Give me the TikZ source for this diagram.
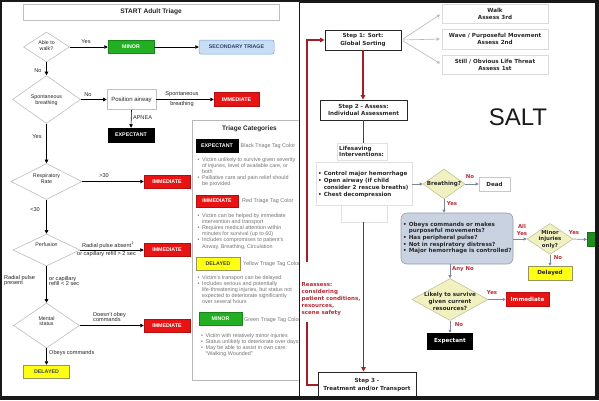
\documentclass[tikz,border=0pt]{standalone}
\usepackage{fontspec}
\setmainfont{Liberation Sans}
\newfontfamily\vfont{DejaVu Sans}
\usetikzlibrary{arrows.meta,shapes.geometric}
\definecolor{lgray}{RGB}{190,190,190}
\definecolor{mgreen}{RGB}{34,176,34}
\definecolor{ired}{RGB}{232,20,20}
\definecolor{yel}{RGB}{255,255,20}
\definecolor{yelb}{RGB}{150,150,90}
\definecolor{secf}{RGB}{200,222,246}
\definecolor{secd}{RGB}{120,160,215}
\definecolor{sect}{RGB}{45,65,105}
\definecolor{redline}{RGB}{160,30,40}
\definecolor{sdf}{RGB}{240,240,192}
\definecolor{sdb}{RGB}{195,195,155}
\definecolor{qf}{RGB}{200,210,224}
\definecolor{qd}{RGB}{150,156,168}
\definecolor{rlabc}{RGB}{185,45,55}
\definecolor{dtext}{RGB}{40,40,40}
\definecolor{rgreen}{RGB}{30,140,30}
\definecolor{garrc}{RGB}{125,135,150}
\tikzset{
  lt/.style={inner sep=0, font=\fontsize{5.6}{5.8}\selectfont, text=black!85, align=center},
  dt/.style={inner sep=0, font=\fontsize{5.3}{5.7}\selectfont, text=black!85, align=center},
  dia/.style={diamond, draw=lgray, line width=.6pt, fill=white, inner sep=0},
  tag/.style={rectangle, inner sep=0, font=\bfseries\fontsize{5.3}{6}\selectfont, line width=.5pt},
  minorbox/.style={tag, fill=mgreen, draw=mgreen!75!black, text=white, minimum width=46pt, minimum height=13pt},
  immbox/.style={tag, fill=ired, draw=ired!75!black, text=white, minimum width=46pt, minimum height=13pt},
  expbox/.style={tag, fill=black, draw=black, text=white, minimum width=46pt, minimum height=14pt},
  delbox/.style={tag, fill=yel, draw=yelb, text=black!75, minimum width=46pt, minimum height=13pt},
  secbox/.style={tag, fill=secf, draw=secd, text=sect, rounded corners=2pt},
  plainbox/.style={rectangle, draw=lgray, line width=.6pt, fill=white, inner sep=0, font=\fontsize{6}{7}\selectfont, text=black!85},
  arr/.style={-{Triangle[length=3.5pt,width=3.5pt]}, line width=.6pt, draw=black},
  gt/.style={inner sep=0, font=\fontsize{5.4}{6.2}\selectfont, text=black!55},
  rtx/.style={inner sep=0, font=\vfont\bfseries\fontsize{5.6}{7}\selectfont, text=dtext, align=center},
  stepbox/.style={rtx, draw=black!85, line width=.9pt, fill=white, font=\vfont\bfseries\fontsize{5.6}{7.4}\selectfont},
  wbox/.style={rtx, draw=black!14, line width=.6pt, fill=white},
  faint/.style={draw=black!12, line width=.6pt, fill=white, inner sep=0},
  sdia/.style={diamond, draw=sdb, fill=sdf, line width=.6pt, inner sep=0},
  rlab/.style={inner sep=0, font=\vfont\bfseries\fontsize{5.4}{6.2}\selectfont, text=rlabc, align=center},
  garr/.style={-{Triangle[length=3pt,width=3pt]}, draw=garrc, line width=.7pt},
  fanarr/.style={-{Triangle[length=3pt,width=3pt]}, draw=black!28, line width=.6pt},
  redl/.style={draw=redline, line width=1.1pt},
  redarr/.style={redl, -{Triangle[length=4.5pt,width=4.5pt]}},
  rtag/.style={rtx, minimum width=44pt, minimum height=14pt, line width=.5pt},
}
\begin{document}
\begin{tikzpicture}[x=1pt,y=-1pt]
\useasboundingbox (0,0) rectangle (599,400);
\fill[black!90] (0,0) rectangle (599,400);
\fill[white] (1.5,2) rectangle (298.5,395.5);
\fill[white] (300,2.5) rectangle (595,395.5);

% ---------------- LEFT PANEL ----------------
\begin{scope}
\clip (1.5,2) rectangle (298.5,395.5);
\node[plainbox, minimum width=256pt, minimum height=16pt, font=\bfseries\fontsize{6.6}{7}\selectfont] (title) at (151,12) {START Adult Triage};

\node[dia, minimum width=46pt, minimum height=30pt] (walk) at (46.5,47) {};
\node[dt] (walkt) at (46.5,45.5) {Able to\\walk?};
\node[minorbox] (minor1) at (131,47) {MINOR};
\node[secbox, minimum width=75pt, minimum height=14pt] (sec) at (236.5,47) {SECONDARY TRIAGE};
\draw[arr] (walk.east) -- (minor1.west);
\node[lt] (l1) at (86,42) {Yes};
\draw[arr] (minor1.east) -- (sec.west);

\node[dia, minimum width=68pt, minimum height=48pt] (spont) at (46.5,99.5) {};
\node[dt] (spontt) at (46.5,100.5) {Spontaneous\\breathing};
\draw[arr] (walk.south) -- (spont.north);
\node[lt] (l2) at (38,71) {No};
\node[plainbox, minimum width=49pt, minimum height=20pt] (posair) at (131.5,99.5) {Position airway};
\draw[arr] (spont.east) -- (posair.west);
\node[lt] (l3) at (88,94.5) {No};
\node[immbox, minimum width=45pt, minimum height=14pt] (imm1) at (236.5,99.5) {IMMEDIATE};
\draw[arr] (posair.east) -- (imm1.west);
\node[lt] (l4) at (182,94.5) {Spontaneous};
\node[lt] (l5) at (182,104.5) {breathing};
\node[expbox] (exp1) at (131,135) {EXPECTANT};
\draw[arr] (posair.south) -- (exp1.north);
\node[lt] (l6) at (142.5,117.5) {APNEA};

\node[dia, minimum width=71pt, minimum height=36pt] (resp) at (46.5,181.5) {};
\node[dt] (respt) at (46.5,178.5) {Respiratory\\Rate};
\draw[arr] (spont.south) -- (resp.north);
\node[lt] (l7) at (37,137) {Yes};
\node[immbox] (imm2) at (167,181.5) {IMMEDIATE};
\draw[arr] (resp.east) -- (imm2.west);
\node[lt] (l8) at (104,176) {>30};

\node[dia, minimum width=67pt, minimum height=32pt] (perf) at (46.5,250) {};
\node[dt] (perft) at (46.5,245) {Perfusion};
\draw[arr] (resp.south) -- (perf.north);
\node[lt] (l9) at (35,210) {<30};
\node[immbox] (imm3) at (167,250) {IMMEDIATE};
\draw[arr] (perf.east) -- (imm3.west);
\node[lt] (l10) at (108,245) {Radial pulse absent\textsuperscript{1}};
\node[lt] (l11) at (106.5,254.5) {or capillary refill > 2 sec};
\node[lt, align=left, anchor=west] (l12) at (4,280.5) {Radial pulse\\present};
\node[lt, align=left, anchor=west] (l13) at (49,281) {or capillary\\refill < 2 sec};

\node[dia, minimum width=66pt, minimum height=45pt] (mental) at (46.5,325.5) {};
\node[dt] (mentalt) at (46.5,321) {Mental\\status};
\draw[arr] (perf.south) -- (mental.north);
\node[immbox] (imm4) at (167,325.5) {IMMEDIATE};
\draw[arr] (mental.east) -- (imm4.west);
\node[lt, align=left, anchor=west] (l14) at (93,317) {Doesn't obey\\commands};
\node[delbox] (del1) at (46.5,371.5) {DELAYED};
\draw[arr] (mental.south) -- (del1.north);
\node[lt, anchor=west] (l15) at (49,353) {Obeys commands};

% Triage categories
\draw[draw=black!28, line width=.6pt] (192,120) rectangle (306,380);
\node[inner sep=0, font=\bfseries\fontsize{6.5}{7}\selectfont, text=black!85] (tc) at (249.5,129) {Triage Categories};
\node[expbox, minimum width=42pt, minimum height=13pt] (texp) at (217,145.5) {EXPECTANT};
\node[gt, anchor=west] (texpt) at (240.5,146) {Black Triage Tag Color};
\node[gt, anchor=base west] (texpb) at (197.5,161) {\begin{tabular}[t]{@{}l@{\hspace{2.5pt}}l@{}}\textbullet & Victim unlikely to survive given severity\\ & of injuries, level of available care, or\\ & both\\ \textbullet & Palliative care and pain relief should\\ & be provided\end{tabular}};

\node[immbox, minimum width=42pt, minimum height=12pt] (timm) at (217,201) {IMMEDIATE};
\node[gt, anchor=west] (timmt) at (242,201.5) {Red Triage Tag Color};
\node[gt, anchor=base west] (timmb) at (197.5,217) {\begin{tabular}[t]{@{}l@{\hspace{2.5pt}}l@{}}\textbullet & Victim can be helped by immediate\\ & intervention and transport\\ \textbullet & Requires medical attention within\\ & minutes for survival (up to 60)\\ \textbullet & Includes compromises to patient's\\ & Airway, Breathing, Circulation\end{tabular}};

\node[delbox, minimum width=44pt, minimum height=13pt] (tdel) at (218,263.5) {DELAYED};
\node[gt, anchor=west] (tdelt) at (243,264.5) {Yellow Triage Tag Color};
\node[gt, anchor=base west] (tdelb) at (197.5,279) {\begin{tabular}[t]{@{}l@{\hspace{2.5pt}}l@{}}\textbullet & Victim's transport can be delayed\\ \textbullet & Includes serious and potentially\\ & life-threatening injuries, but status not\\ & expected to deteriorate significantly\\ & over several hours\end{tabular}};

\node[minorbox, minimum width=43pt, minimum height=13pt] (tmin) at (220.5,318.5) {MINOR};
\node[gt, anchor=west] (tmint) at (244,320) {Green Triage Tag Color};
\node[gt, anchor=base west] (tminb) at (201,337) {\begin{tabular}[t]{@{}l@{\hspace{2.5pt}}l@{}}\textbullet & Victim with relatively minor injuries\\ \textbullet & Status unlikely to deteriorate over days\\ \textbullet & May be able to assist in own care:\\ & ``Walking Wounded''\end{tabular}};
\end{scope}

% ---------------- RIGHT PANEL ----------------
\begin{scope}
\clip (300,2.5) rectangle (595,395.5);
\node[stepbox, minimum width=76pt, minimum height=20pt] (step1) at (363,40) {Step 1: Sort:\\Global Sorting};
\node[wbox, minimum width=106pt, minimum height=19pt] (walkb) at (495,13.5) {Walk\\Assess 3rd};
\node[wbox, minimum width=106pt, minimum height=20pt] (waveb) at (495,39) {Wave / Purposeful Movement\\Assess 2nd};
\node[wbox, minimum width=106pt, minimum height=19pt] (stillb) at (495,64.5) {Still / Obvious Life Threat\\Assess 1st};
\draw[fanarr, shorten <=1.5pt, shorten >=2pt] (step1.east) -- (walkb.west);
\draw[fanarr, shorten <=1.5pt, shorten >=2pt] (step1.east) -- (waveb.west);
\draw[fanarr, shorten <=1.5pt, shorten >=2pt] (step1.east) -- (stillb.west);

\node[stepbox, minimum width=87pt, minimum height=20pt] (step2) at (363.5,110) {Step 2 - Assess:\\Individual Assessment};
\draw[redarr] (step1.south) -- (step1.south |- step2.north);
\node[inner sep=0, font=\fontsize{24}{24}\selectfont, text=black!90] (salt) at (518,117) {SALT};

\node[faint, minimum width=46pt, minimum height=18pt] (lstab) at (364,213) {};
\node[faint, minimum width=96pt, minimum height=43pt] (lsb) at (364,183.5) {};
\node[faint, minimum width=50pt, minimum height=17pt] (lsl) at (362,151.5) {};
\node[rtx, align=left, anchor=west, font=\vfont\bfseries\fontsize{5.6}{6.5}\selectfont] (lslt) at (339,151.5) {Lifesaving\\Interventions:};
\node[rtx, anchor=base west, align=left] (lsbt) at (318,175.5) {\begin{tabular}[t]{@{}l@{\hspace{2pt}}l@{}}\textbullet & Control major hemorrhage\\ \textbullet & Open airway (if child\\ & consider 2 rescue breaths)\\ \textbullet & Chest decompression\end{tabular}};
\draw[redl] (step2.south) -- (step2.south |- lsl.north);

\node[sdia, minimum width=42pt, minimum height=30pt] (breath) at (444,184) {};
\node[rtx] (breatht) at (444,184) {Breathing?};
\draw[garr] (lsb.east |- breath.west) -- (breath.west);
\node[wbox, minimum width=31pt, minimum height=14pt, draw=black!22] (dead) at (494.5,184) {Dead};
\draw[garr] (breath.east) -- (dead.west);
\node[rlab] (rl1) at (470,177) {No};
\node[rlab] (rl2) at (452,204) {Yes};

\node[rounded corners=6pt, draw=qd, fill=qf, line width=.6pt, minimum width=112pt, minimum height=51pt, inner sep=0] (qbox) at (457,238.5) {};
\draw[garr] (breath.south) -- (breath.south |- qbox.north);
\node[rtx, anchor=base west, align=left, font=\vfont\bfseries\fontsize{5.6}{6.7}\selectfont] (qboxt) at (403,226) {\begin{tabular}[t]{@{}l@{\hspace{2pt}}l@{}}\textbullet & Obeys commands or makes\\ & purposeful movements?\\ \textbullet & Has peripheral pulse?\\ \textbullet & Not in respiratory distress?\\ \textbullet & Major hemorrhage is controlled?\end{tabular}};
\node[rlab] (rl3) at (522,230) {All\\Yes};

\node[sdia, minimum width=46pt, minimum height=31pt] (minj) at (550,239) {};
\node[rtx, font=\vfont\bfseries\fontsize{5.4}{6.5}\selectfont] (minjt) at (550,239.5) {Minor\\injuries\\only?};
\draw[garr] (qbox.east |- minj.west) -- (minj.west);
\node[rectangle, fill=rgreen, draw=rgreen!80!black, minimum width=26pt, minimum height=14pt, inner sep=0] (greenb) at (600,239.5) {};
\draw[garr] (minj.east) -- (greenb.west);
\node[rlab] (rl4) at (574,233) {Yes};
\node[rtag, fill=yel, draw=yelb] (del2) at (550,273) {Delayed};
\draw[garr] (minj.south) -- (del2.north);
\node[rlab] (rl5) at (558,258) {No};

\node[sdia, minimum width=76pt, minimum height=42pt] (likely) at (450,299.5) {};
\node[rtx] (likelyt) at (450,301) {Likely to survive\\given current\\resources?};
\draw[garr] (likely.north |- qbox.south) -- (likely.north);
\node[rlab] (rl6) at (463,269.5) {Any No};
\node[rtag, fill=ired, draw=ired!80!black, text=white, minimum width=43pt] (imm5) at (527.5,299.5) {Immediate};
\draw[garr] (likely.east) -- (imm5.west);
\node[rlab] (rl7) at (492,293) {Yes};
\node[rtag, fill=black, draw=black, text=white, minimum width=45pt, minimum height=16pt] (exp2) at (450,341) {Expectant};
\draw[garr] (likely.south) -- (exp2.north);
\node[rlab] (rl8) at (459,325) {No};

\node[stepbox, minimum width=98pt, minimum height=26pt] (step3) at (367,385) {Step 3 -\\Treatment and/or Transport};
\draw[redarr] (step2.south |- lstab.south) -- (step2.south |- step3.north);

\coordinate (rb) at (307,322);
\coordinate (rt) at (307,262);
\draw[redl] (step3.west) -| (rb);
\draw[redarr] (rt) |- (step1.west);
\node[rlab, align=left, anchor=north west, font=\vfont\bfseries\fontsize{5.5}{7}\selectfont] (reas) at (301.5,282.5) {Reassess:\\considering\\patient conditions,\\resources,\\scene safety};
\end{scope}
\end{tikzpicture}
\end{document}
